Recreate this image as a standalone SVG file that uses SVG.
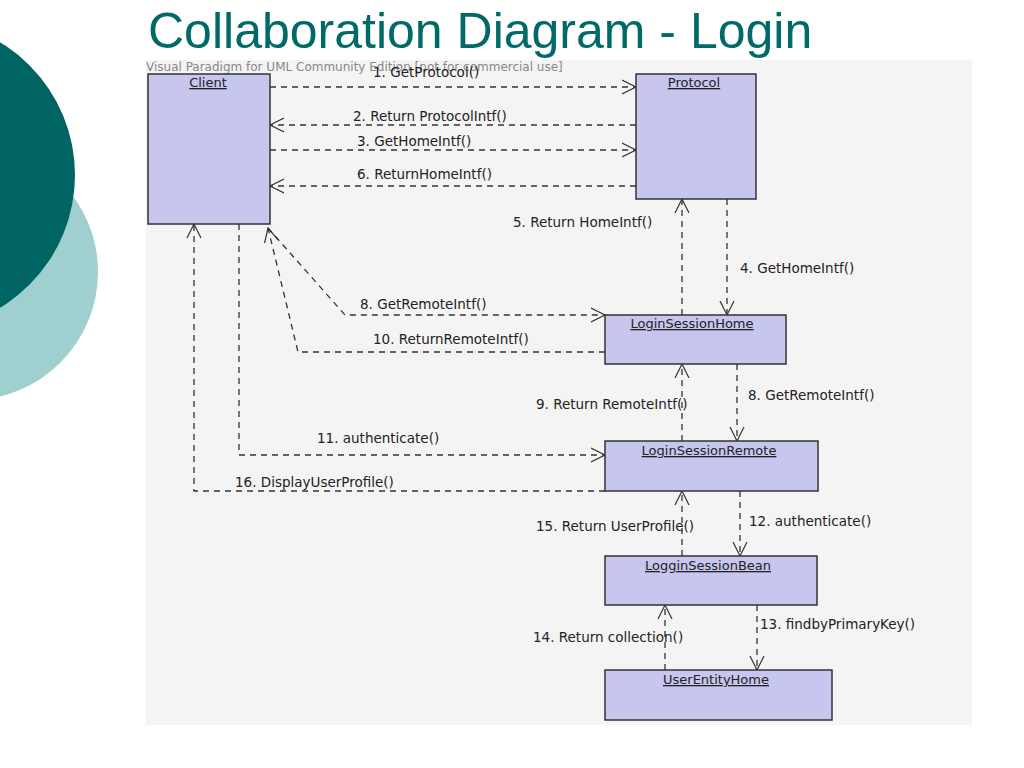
<svg xmlns="http://www.w3.org/2000/svg" width="1024" height="768" viewBox="0 0 1024 768">
<defs>
<marker id="a" markerWidth="16" markerHeight="16" refX="14" refY="8" orient="auto" markerUnits="userSpaceOnUse">
<path d="M0,1 L14,8 L0,15" fill="none" stroke="#333" stroke-width="1.2"/>
</marker>
<style>
.b{fill:#c6c6ee;stroke:#333;stroke-width:1.5}
.n{font-family:"DejaVu Sans",sans-serif;font-size:13px;fill:#222;text-decoration:underline;text-anchor:middle}
.l{font-family:"DejaVu Sans",sans-serif;font-size:13.5px;fill:#222}
.c{fill:none;stroke:#333;stroke-width:1.3;stroke-dasharray:6,5;marker-end:url(#a)}
</style>
</defs>
<rect width="1024" height="768" fill="#fff"/>
<circle cx="-30" cy="272" r="128" fill="#9fcfcf"/>
<circle cx="-80" cy="175" r="155" fill="#006462"/>
<text x="148" y="48" font-family="Liberation Sans,Arial,sans-serif" font-size="50" fill="#006a66">Collaboration Diagram - Login</text>
<rect x="146" y="60" width="826" height="665" fill="#f4f4f4"/>
<text x="146" y="71" font-family="DejaVu Sans,sans-serif" font-size="12" fill="#888">Visual Paradigm for UML Community Edition [not for commercial use]</text>
<g id="connectors">
<path class="c" d="M270,87 H636"/>
<path class="c" d="M636,125 H270"/>
<path class="c" d="M270,150 H636"/>
<path class="c" d="M636,186 H270"/>
<path class="c" d="M682,315 V199"/>
<path class="c" d="M727,199 V315"/>
<path class="c" d="M268,228 L345,315 H605"/>
<path class="c" d="M605,352 H298 L268,228"/>
<path class="c" d="M239,224 V455 H605"/>
<path class="c" d="M605,491 H194 V224"/>
<path class="c" d="M682,441 V364"/>
<path class="c" d="M737,364 V441"/>
<path class="c" d="M682,556 V491"/>
<path class="c" d="M740,491 V556"/>
<path class="c" d="M665,670 V605"/>
<path class="c" d="M757,605 V670"/>
<text class="l" x="373" y="77">1. GetProtocol()</text>
<text class="l" x="353" y="121">2. Return ProtocolIntf()</text>
<text class="l" x="357" y="146">3. GetHomeIntf()</text>
<text class="l" x="357" y="179">6. ReturnHomeIntf()</text>
<text class="l" x="513" y="227">5. Return HomeIntf()</text>
<text class="l" x="740" y="273">4. GetHomeIntf()</text>
<text class="l" x="360" y="309">8. GetRemoteIntf()</text>
<text class="l" x="373" y="344">10. ReturnRemoteIntf()</text>
<text class="l" x="536" y="409">9. Return RemoteIntf()</text>
<text class="l" x="748" y="400">8. GetRemoteIntf()</text>
<text class="l" x="317" y="443">11. authenticate()</text>
<text class="l" x="235" y="487">16. DisplayUserProfile()</text>
<text class="l" x="536" y="531">15. Return UserProfile()</text>
<text class="l" x="749" y="526">12. authenticate()</text>
<text class="l" x="533" y="642">14. Return collection()</text>
<text class="l" x="760" y="629">13. findbyPrimaryKey()</text>
</g>
<g id="client"><rect class="b" x="148" y="74" width="122" height="150"/><text class="n" x="208" y="87">Client</text></g>
<g id="protocol"><rect class="b" x="636" y="74" width="120" height="125"/><text class="n" x="694" y="87">Protocol</text></g>
<g id="loginSessionHome"><rect class="b" x="605" y="315" width="181" height="49"/><text class="n" x="692" y="328">LoginSessionHome</text></g>
<g id="loginSessionRemote"><rect class="b" x="605" y="441" width="213" height="50"/><text class="n" x="709" y="455">LoginSessionRemote</text></g>
<g id="logginSessionBean"><rect class="b" x="605" y="556" width="212" height="49"/><text class="n" x="708" y="570">LogginSessionBean</text></g>
<g id="userEntityHome"><rect class="b" x="605" y="670" width="227" height="50"/><text class="n" x="716" y="684">UserEntityHome</text></g>
</svg>
